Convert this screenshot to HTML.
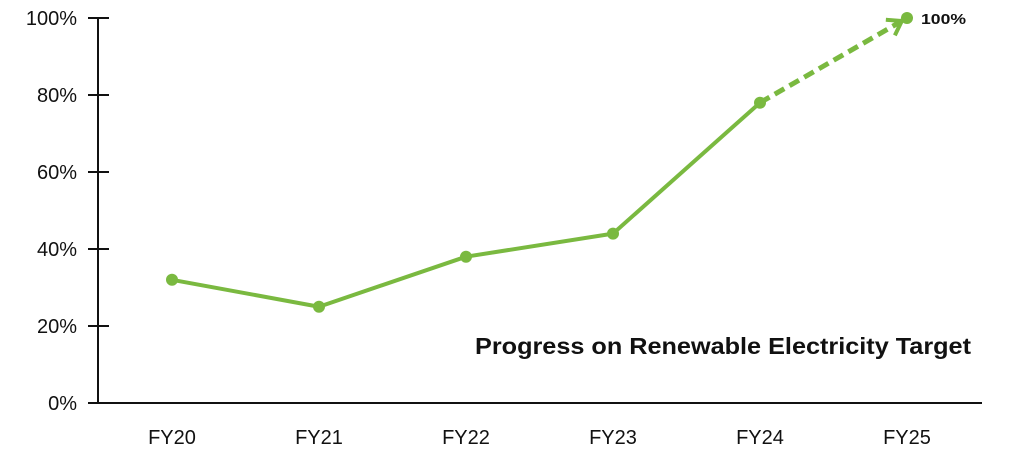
<!DOCTYPE html>
<html><head><meta charset="utf-8"><style>
html,body{margin:0;padding:0;background:#fff;}
svg{display:block;font-family:"Liberation Sans",sans-serif;}
</style></head><body>
<svg id="chart" width="1024" height="469"></svg>
<script>
const categories=["FY20","FY21","FY22","FY23","FY24","FY25"];
const values=[32,25,38,44,78,100];
const yTicks=[0,20,40,60,80,100];
const targetIndex=5;
const NS="http://www.w3.org/2000/svg";
const svg=document.getElementById('chart');
const x=i=>172+i*147;
const y=v=>403-v*3.85;
function mk(t,a,p){const e=document.createElementNS(NS,t);for(const k in a)e.setAttribute(k,a[k]);(p||svg).appendChild(e);return e;}
const yAxis=mk('line',{x1:98,y1:18,x2:98,y2:403,stroke:'#111','stroke-width':2});


const xAxis=mk('line',{x1:88,y1:403,x2:982,y2:403,stroke:'#111','stroke-width':2});


yTicks.forEach(v=>{
  const t=mk('line',{x1:88,y1:y(v),x2:109,y2:y(v),stroke:'#111','stroke-width':2});
  
  
  const l=mk('text',{x:77,y:y(v)+7,'text-anchor':'end','font-size':20,fill:'#111'});
  l.textContent=v+'%';
  
  
});
categories.forEach((c,i)=>{
  const l=mk('text',{x:x(i),y:444,'text-anchor':'middle','font-size':20,fill:'#111'});
  l.textContent=c;
  
  
});
const G='#7ab940';
let d='';
for(let i=0;i<targetIndex;i++)d+=(i?'L':'M')+x(i)+','+y(values[i]);
const line=mk('path',{d:d,fill:'none',stroke:G,'stroke-width':4,'stroke-linejoin':'round'});


const x1=x(targetIndex-1),y1=y(values[targetIndex-1]),x2=x(targetIndex),y2=y(values[targetIndex]);
const dash=mk('line',{x1:x1,y1:y1,x2:x2,y2:y2,stroke:G,'stroke-width':5,'stroke-dasharray':'11,6'});


const ang=Math.atan2(y2-y1,x2-x1);
const tx=x2-6*Math.cos(ang),ty=y2-6*Math.sin(ang);
const ah=mk('path',{d:`M${tx-16*Math.cos(ang-0.6)},${ty-16*Math.sin(ang-0.6)}L${tx},${ty}L${tx-16*Math.cos(ang+0.6)},${ty-16*Math.sin(ang+0.6)}`,fill:'none',stroke:G,'stroke-width':4});


values.forEach((v,i)=>{
  const c=mk('circle',{cx:x(i),cy:y(v),r:6,fill:G});
  
  
});
const vl=mk('text',{x:x(targetIndex)+14,y:y(values[targetIndex])+6,'font-size':15,'font-weight':'bold',fill:'#111',textLength:45,lengthAdjust:'spacingAndGlyphs'});
vl.textContent=values[targetIndex]+'%';


const title=mk('text',{x:475,y:354,'font-size':23,'font-weight':'bold',fill:'#111',textLength:496,lengthAdjust:'spacingAndGlyphs'});
title.textContent='Progress on Renewable Electricity Target';


</script>
</body></html>
